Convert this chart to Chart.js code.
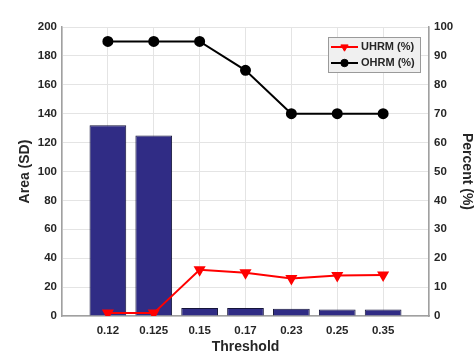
<!DOCTYPE html>
<html>
<head>
<meta charset="utf-8">
<script src="https://cdn.jsdelivr.net/npm/chart.js@4/dist/chart.umd.min.js"></script>
<style>
html,body{margin:0;padding:0;background:#fff;}
canvas{display:block;}
</style>
</head>
<body>
<canvas id="c" width="474" height="356"></canvas>
<script>
const categories = ['0.12', '0.125', '0.15', '0.17', '0.23', '0.25', '0.35'];
const areaSD = [132, 125, 5.5, 5.5, 5, 4.5, 4.5];
const uhrm = [1, 1, 16, 15, 13, 14, 14.2];
const ohrm = [95, 95, 95, 85, 70, 70, 70];

const toXY = arr => arr.map((v, i) => ({x: i + 1, y: v}));
const FONT = "'Liberation Sans', Arial, sans-serif";
const tickFont = {family: FONT, size: 11.5, weight: 'bold'};
const titleFont = {family: FONT, size: 14, weight: 'bold', lineHeight: 1.2};
const gridColor = '#e4e4e4';
const axisColor = '#a0a0a0';
const textColor = '#262626';

const legendPlugin = {
  id: 'boxLegend',
  afterDraw(chart) {
    const ctx = chart.ctx;
    const area = chart.chartArea;
    const items = chart.data.datasets.filter(d => d.type === 'line');
    const w = 93, rowH = 16, h = rowH * items.length + 4;
    const x = area.right - 8 - w, y = area.top + 10;
    ctx.save();
    ctx.fillStyle = '#f0f0f0';
    ctx.fillRect(x, y, w, h);
    ctx.strokeStyle = '#9a9a9a';
    ctx.lineWidth = 1;
    ctx.strokeRect(x + 0.5, y + 0.5, w - 1, h - 1);
    items.forEach((d, i) => {
      const cy = y + 2 + rowH * i + rowH / 2;
      ctx.strokeStyle = d.borderColor;
      ctx.lineWidth = 2;
      ctx.beginPath();
      ctx.moveTo(x + 3, cy);
      ctx.lineTo(x + 30, cy);
      ctx.stroke();
      ctx.fillStyle = d.pointBackgroundColor;
      ctx.strokeStyle = d.borderColor;
      ctx.lineWidth = 1;
      Chart.helpers.drawPoint(ctx, {
        pointStyle: d.pointStyle, radius: d.pointRadius - 0.8, rotation: d.pointRotation || 0,
        borderWidth: 1
      }, x + 16.5, cy);
      ctx.fillStyle = textColor;
      ctx.font = 'bold 11px ' + FONT;
      ctx.textBaseline = 'middle';
      ctx.textAlign = 'left';
      ctx.fillText(d.label, x + 33, cy);
    });
    ctx.restore();
  }
};

new Chart(document.getElementById('c'), {
  data: {
    datasets: [
      {
        type: 'line', label: 'UHRM (%)', data: toXY(uhrm), yAxisID: 'y1',
        borderColor: '#ff0000', backgroundColor: '#ff0000', pointBackgroundColor: '#ff0000',
        borderWidth: 2, pointStyle: 'triangle', pointRotation: 180, pointRadius: 5,
        pointBorderColor: '#ff0000', tension: 0
      },
      {
        type: 'line', label: 'OHRM (%)', data: toXY(ohrm), yAxisID: 'y1',
        borderColor: '#000000', backgroundColor: '#000000', pointBackgroundColor: '#000000',
        borderWidth: 2, pointStyle: 'circle', pointRadius: 4.5,
        pointBorderColor: '#000000', tension: 0
      },
      {
        type: 'bar', label: 'Area (SD)', data: toXY(areaSD), yAxisID: 'y',
        backgroundColor: '#302c85', borderColor: '#15143a', borderWidth: 1,
        barPercentage: 0.8, categoryPercentage: 1
      }
    ]
  },
  options: {
    responsive: false,
    devicePixelRatio: 1,
    animation: false,
    layout: {padding: {top: 27, left: 0, right: 0, bottom: 0}},
    plugins: {legend: {display: false}, tooltip: {enabled: false}},
    scales: {
      x: {
        type: 'linear', position: 'bottom', min: 0, max: 8, offset: false,
        afterFit: s => { s.height = 40; },
        ticks: {
          stepSize: 1, color: textColor, font: tickFont, padding: 8, maxRotation: 0, autoSkip: false,
          callback: v => categories[v - 1] || ''
        },
        grid: {color: gridColor, drawTicks: false, offset: false},
        border: {color: axisColor, width: 1.5},
        title: {display: true, text: 'Threshold', color: textColor, font: titleFont, padding: {top: 0, bottom: 0.6}}
      },
      y: {
        position: 'left', min: 0, max: 200,
        afterFit: s => { s.width = 62; },
        ticks: {stepSize: 20, color: textColor, font: tickFont, padding: 5},
        grid: {color: gridColor, drawTicks: false},
        border: {color: axisColor, width: 1.5},
        title: {display: true, text: 'Area (SD)', color: textColor, font: titleFont, padding: {top: 16.6, bottom: 0}}
      },
      y1: {
        position: 'right', min: 0, max: 100,
        afterFit: s => { s.width = 45; },
        ticks: {stepSize: 10, color: textColor, font: tickFont, padding: 5},
        grid: {drawOnChartArea: false, drawTicks: false},
        border: {color: axisColor, width: 1.5},
        title: {display: true, text: 'Percent (%)', color: textColor, font: titleFont, padding: {top: -1.4, bottom: 0}}
      }
    }
  },
  plugins: [legendPlugin]
});
</script>
</body>
</html>
